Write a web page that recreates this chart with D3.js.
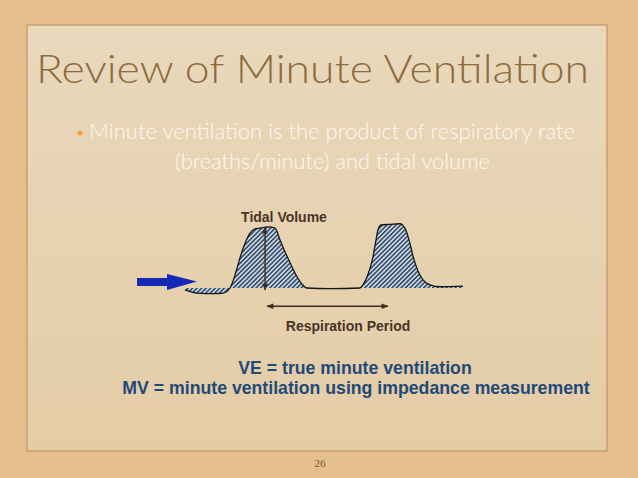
<!DOCTYPE html>
<meta charset="utf-8">
<script src="https://cdn.jsdelivr.net/npm/d3@7"></script>
<style>
  body { margin: 0; background: #e8c28f; }
</style>
<div id="slide"></div>
<script>

// breathing trace: time (s) and normalised volume
var traceTime  = [0, 0.43, 1.08, 1.37, 1.62, 1.83, 1.98, 2.16, 2.34, 2.52, 2.70, 2.99, 3.24, 3.42, 3.60, 3.78, 3.99, 4.21, 4.39, 5.22, 6.29, 6.40, 6.58, 6.76, 6.87, 6.94, 7.05, 7.37, 7.73, 7.91, 8.06, 8.20, 8.38, 8.56, 8.81, 9.17, 10.0];
var traceLevel = [-0.03, -0.08, -0.09, -0.08, 0, 0.25, 0.48, 0.71, 0.87, 0.94, 0.95, 0.97, 0.95, 0.76, 0.57, 0.40, 0.21, 0.06, 0, -0.01, 0, 0.05, 0.21, 0.49, 0.76, 0.92, 1.0, 1.01, 1.02, 0.95, 0.76, 0.51, 0.27, 0.13, 0.05, 0.02, 0.03];

// annotation positions in data units
var tidalArrow  = { t: 2.88, from: -0.03, to: 0.96 };
var periodArrow = { from: 2.95, to: 7.30, level: -0.29 };

var titleText = "Review of Minute Ventilation";
var bulletLines = ["Minute ventilation is the product of respiratory rate",
                   "(breaths/minute) and tidal volume"];
var legendLines = ["VE = true minute ventilation",
                   "MV = minute ventilation using impedance measurement"];
var pageNumber = "26";

var W = 638, H = 478;

var svg = d3.select("#slide")
    .append("svg")
    .attr("width", W)
    .attr("height", H);

var defs = svg.append("defs");

// paper texture
var noise = defs.append("filter").attr("id", "grain");
noise.append("feTurbulence").attr("type", "fractalNoise")
    .attr("baseFrequency", 0.9).attr("numOctaves", 2).attr("result", "n");
noise.append("feColorMatrix").attr("in", "n").attr("type", "matrix")
    .attr("values", "0 0 0 0 0.55  0 0 0 0 0.38  0 0 0 0 0.2  0 0 0 0.18 0");
noise.append("feComposite").attr("in2", "SourceGraphic").attr("operator", "in");

var grad = defs.append("linearGradient").attr("id", "paper")
    .attr("x1", 0).attr("y1", 0).attr("x2", 0).attr("y2", 1);
grad.append("stop").attr("offset", 0).attr("stop-color", "#e9d8bc");
grad.append("stop").attr("offset", 1).attr("stop-color", "#e4cca6");

// hatch for the filled breaths
var hatch = defs.append("pattern").attr("id", "hatch")
    .attr("patternUnits", "userSpaceOnUse")
    .attr("width", 3.2).attr("height", 3.2)
    .attr("patternTransform", "rotate(45)");
hatch.append("rect").attr("width", 3.2).attr("height", 3.2).attr("fill", "#c9d7e2");
hatch.append("rect").attr("width", 1.4).attr("height", 3.2).attr("fill", "#283c5a");

// arrow heads
function head(id, color, w, h) {
    defs.append("marker").attr("id", id)
        .attr("viewBox", "0 0 10 10").attr("refX", 9).attr("refY", 5)
        .attr("markerWidth", w).attr("markerHeight", h)
        .attr("orient", "auto-start-reverse")
        .attr("markerUnits", "userSpaceOnUse")
        .append("path").attr("d", "M0,1 L10,5 L0,9 Z").attr("fill", color);
}
head("brown", "#3f2c1f", 10, 7);

// backgrounds
svg.append("rect").attr("width", W).attr("height", H).attr("fill", "#e8c28f");
svg.append("rect").attr("width", W).attr("height", H).attr("fill", "#e8c28f")
    .attr("filter", "url(#grain)");
svg.append("rect")
    .attr("x", 27).attr("y", 25).attr("width", 580).attr("height", 426)
    .attr("fill", "url(#paper)")
    .attr("stroke", "#c49468").attr("stroke-width", 1.2);

// title and bullet
svg.append("text")
    .attr("x", 36).attr("y", 83)
    .attr("textLength", 553).attr("lengthAdjust", "spacingAndGlyphs")
    .style("font-family", "Lato").style("font-weight", 300)
    .style("font-size", "40px").attr("fill", "#8e6b3b")
    .text(titleText);

svg.append("circle").attr("cx", 80).attr("cy", 133).attr("r", 2.6).attr("fill", "#f0a040");

svg.append("text")
    .attr("x", 89).attr("y", 139)
    .attr("textLength", 486).attr("lengthAdjust", "spacingAndGlyphs")
    .style("font-family", "Lato").style("font-weight", 300)
    .style("font-size", "21px").attr("fill", "#fdf9f2")
    .text(bulletLines[0]);
svg.append("text")
    .attr("x", 175).attr("y", 169)
    .attr("textLength", 315).attr("lengthAdjust", "spacingAndGlyphs")
    .style("font-family", "Lato").style("font-weight", 300)
    .style("font-size", "21px").attr("fill", "#fdf9f2")
    .text(bulletLines[1]);

// waveform scales
var x = d3.scaleLinear().domain([0, 10]).range([185, 463]);
var y = d3.scaleLinear().domain([0, 1]).range([288, 225]);

var trace = traceTime.map(function (t, i) { return { t: t, v: traceLevel[i] }; });

svg.append("path")
    .datum(trace)
    .attr("fill", "url(#hatch)")
    .attr("d", d3.area()
        .x(function (d) { return x(d.t); })
        .y0(y(0))
        .y1(function (d) { return y(d.v); })
        .curve(d3.curveMonotoneX));

svg.append("path")
    .datum(trace)
    .attr("fill", "none")
    .attr("stroke", "#161616")
    .attr("stroke-width", 1.3)
    .attr("d", d3.line()
        .x(function (d) { return x(d.t); })
        .y(function (d) { return y(d.v); })
        .curve(d3.curveMonotoneX));

// tidal volume arrow
svg.append("line")
    .attr("x1", x(tidalArrow.t)).attr("x2", x(tidalArrow.t))
    .attr("y1", y(tidalArrow.from)).attr("y2", y(tidalArrow.to))
    .attr("stroke", "#3f2c1f").attr("stroke-width", 1.4)
    .attr("marker-start", "url(#brown)").attr("marker-end", "url(#brown)");

// respiration period arrow
svg.append("line")
    .attr("x1", x(periodArrow.from)).attr("x2", x(periodArrow.to))
    .attr("y1", y(periodArrow.level)).attr("y2", y(periodArrow.level))
    .attr("stroke", "#3f2c1f").attr("stroke-width", 1.4)
    .attr("marker-start", "url(#brown)").attr("marker-end", "url(#brown)");

// blue input arrow
svg.append("path")
    .attr("d", "M137,278 L167,278 L167,274 L197,281.5 L167,290 L167,286 L137,286 Z")
    .attr("fill", "#1628b8");

// diagram labels
svg.append("text")
    .attr("x", 284).attr("y", 222).attr("text-anchor", "middle")
    .style("font-family", "Liberation Sans").style("font-weight", "bold")
    .style("font-size", "14px").attr("fill", "#4a3425")
    .text("Tidal Volume");
svg.append("text")
    .attr("x", 348).attr("y", 331).attr("text-anchor", "middle")
    .style("font-family", "Liberation Sans").style("font-weight", "bold")
    .style("font-size", "14px").attr("fill", "#4a3425")
    .text("Respiration Period");

// definitions
svg.append("text")
    .attr("x", 355).attr("y", 374).attr("text-anchor", "middle")
    .style("font-family", "Liberation Sans").style("font-weight", "bold")
    .style("font-size", "17.7px").attr("fill", "#1f4a78")
    .text(legendLines[0]);
svg.append("text")
    .attr("x", 356).attr("y", 394).attr("text-anchor", "middle")
    .style("font-family", "Liberation Sans").style("font-weight", "bold")
    .style("font-size", "17.7px").attr("fill", "#1f4a78")
    .text(legendLines[1]);

svg.append("text")
    .attr("x", 320).attr("y", 467).attr("text-anchor", "middle")
    .style("font-family", "Liberation Serif")
    .style("font-size", "11px").attr("fill", "#6e5a3e")
    .text(pageNumber);

</script>
